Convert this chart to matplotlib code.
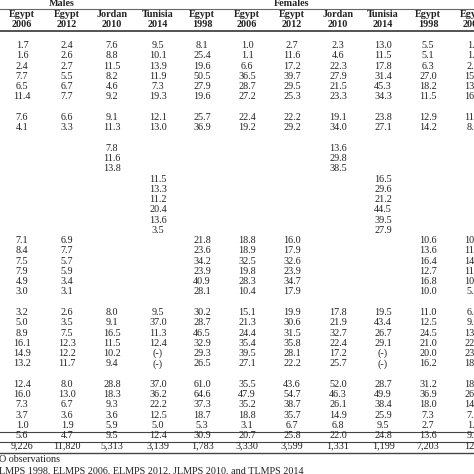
import matplotlib
matplotlib.use("Agg")
import matplotlib.pyplot as plt

groups = ["Males", "Females"]
headers = [("Egypt","2006"),("Egypt","2012"),("Jordan","2010"),("Tunisia","2014"),
           ("Egypt","1998"),("Egypt","2006"),("Egypt","2012"),("Jordan","2010"),
           ("Tunisia","2014"),("Egypt","1998"),("Egypt","2006")]
E = ""
# each column: values row by row (blank = "")
col0 = ["1.7","1.6","2.4","7.7","6.5","11.4",E,"7.6","4.1",E,E,E,E,E,E,E,E,E,E,"7.1","8.4","7.5","7.9","4.9","3.0",E,"3.2","5.0","8.9","16.1","14.9","13.2",E,"12.4","16.0","7.3","3.7","1.0","5.6","9,226"]
col1 = ["2.4","2.6","2.7","5.5","6.7","7.7",E,"6.6","3.3",E,E,E,E,E,E,E,E,E,E,"6.9","7.7","5.7","5.9","3.4","3.1",E,"2.6","3.5","7.5","12.3","12.2","11.7",E,"8.0","13.0","6.7","3.6","1.9","4.7","11,820"]
col2 = ["7.6","8.8","11.5","8.2","4.6","9.2",E,"9.1","11.3",E,"7.8","11.6","13.8",E,E,E,E,E,E,E,E,E,E,E,E,E,"8.0","9.1","16.5","11.5","10.2","9.4",E,"28.8","18.3","9.3","3.6","5.9","9.5","5,313"]
col3 = ["9.5","10.1","13.9","11.9","7.3","19.3",E,"12.1","13.0",E,E,E,E,"11.5","13.3","11.2","20.4","13.6","3.5",E,E,E,E,E,E,E,"9.5","37.0","11.3","12.4","(-)","(-)",E,"37.0","36.2","22.2","12.5","5.0","12.4","3,139"]
col4 = ["8.1","25.4","19.6","50.5","27.9","19.6",E,"25.7","36.9",E,E,E,E,E,E,E,E,E,E,"21.8","23.6","34.2","23.9","40.9","28.1",E,"30.2","28.7","46.5","32.9","29.3","26.5",E,"61.0","64.6","37.3","18.7","5.3","30.9","1,783"]
col5 = ["1.0","1.1","6.6","36.5","28.7","27.2",E,"22.4","19.2",E,E,E,E,E,E,E,E,E,E,"18.8","18.9","32.5","19.8","28.3","10.4",E,"15.1","21.3","24.4","35.4","39.5","27.1",E,"35.5","47.9","35.2","18.8","3.1","20.7","3,330"]
col6 = ["2.7","11.6","17.2","39.7","29.5","25.3",E,"22.2","29.2",E,E,E,E,E,E,E,E,E,E,"16.0","17.9","32.6","23.9","34.7","17.9",E,"19.9","30.6","31.5","35.8","28.1","22.2",E,"43.6","54.7","38.7","35.7","6.7","25.8","3,599"]
col7 = ["2.3","4.6","22.3","27.9","21.5","23.3",E,"19.1","34.0",E,"13.6","29.8","38.5",E,E,E,E,E,E,E,E,E,E,E,E,E,"17.8","21.9","32.7","22.4","17.2","25.7",E,"52.0","46.3","26.1","14.9","6.8","22.0","1,331"]
col8 = ["13.0","11.5","17.8","31.4","45.3","34.3",E,"23.8","27.1",E,E,E,E,"16.5","29.6","21.2","44.5","39.5","27.9",E,E,E,E,E,E,E,"19.5","43.4","26.7","29.1","(-)","(-)",E,"28.7","49.9","38.4","25.9","9.5","24.8","1,199"]
col9 = ["5.5","5.1","6.3","27.0","18.2","11.5",E,"12.9","14.2",E,E,E,E,E,E,E,E,E,E,"10.6","13.6","16.4","12.7","16.8","10.0",E,"11.0","12.5","24.5","21.0","20.0","16.2",E,"31.2","36.9","18.0","7.3","2.7","13.6","7,203"]
col10 = ["1.2","1.3","2.5","15.1","13.2","16.4",E,"11.3","8.6",E,E,E,E,E,E,E,E,E,E,"10.4","11.2","14.3","11.5","10.2","5.1",E,"6.8","9.6","13.2","22.1","23.4","18.2",E,"18.1","26.3","14.2","7.2","1.6","9.7","12,5"]
columns = [col0,col1,col2,col3,col4,col5,col6,col7,col8,col9,col10]
notes = ["O observations", "LMPS 1998, ELMPS 2006, ELMPS 2012, JLMPS 2010, and TLMPS 2014"]

W = H = 474
fig = plt.figure(figsize=(4.74, 4.74), dpi=100)
ax = fig.add_axes([0, 0, 1, 1])
ax.set_xlim(0, W); ax.set_ylim(H, 0); ax.axis("off")
font = dict(family="Liberation Serif", fontsize=7.3, color="#222222")

xs = [22, 67, 112, 158, 202, 247, 292, 338, 383, 428, 473]
ax.text(62, 3, groups[0], ha="center", va="center", weight="bold", **font)
ax.text(292, 3, groups[1], ha="center", va="center", weight="bold", **font)
ax.plot([0, W], [8.5, 8.5], color="#666", lw=0.8)
for x, (a, b) in zip(xs, headers):
    ax.text(x, 14, a, ha="center", va="center", weight="bold", **font)
    ax.text(x, 24, b, ha="center", va="center", weight="bold", **font)
ax.plot([0, W], [31, 31], color="#444", lw=1.3)

row_y = []
y = 45.5
for i in range(len(col0)):
    row_y.append(y)
    y += 10.27
for x, col in zip(xs, columns):
    for yy, v in zip(row_y, col):
        if v:
            ax.text(x, yy, v, ha="center", va="center", **font)
ax.plot([0, W], [431.5, 431.5], color="#444", lw=0.8)
ax.plot([0, W], [441.5, 441.5], color="#444", lw=0.8)
ax.plot([0, W], [452.5, 452.5], color="#444", lw=1.0)
ax.text(-1, 459, notes[0], ha="left", va="center", **font)
ax.text(-1, 471, notes[1], ha="left", va="center", **font)
fig.savefig("out.png", dpi=100)
